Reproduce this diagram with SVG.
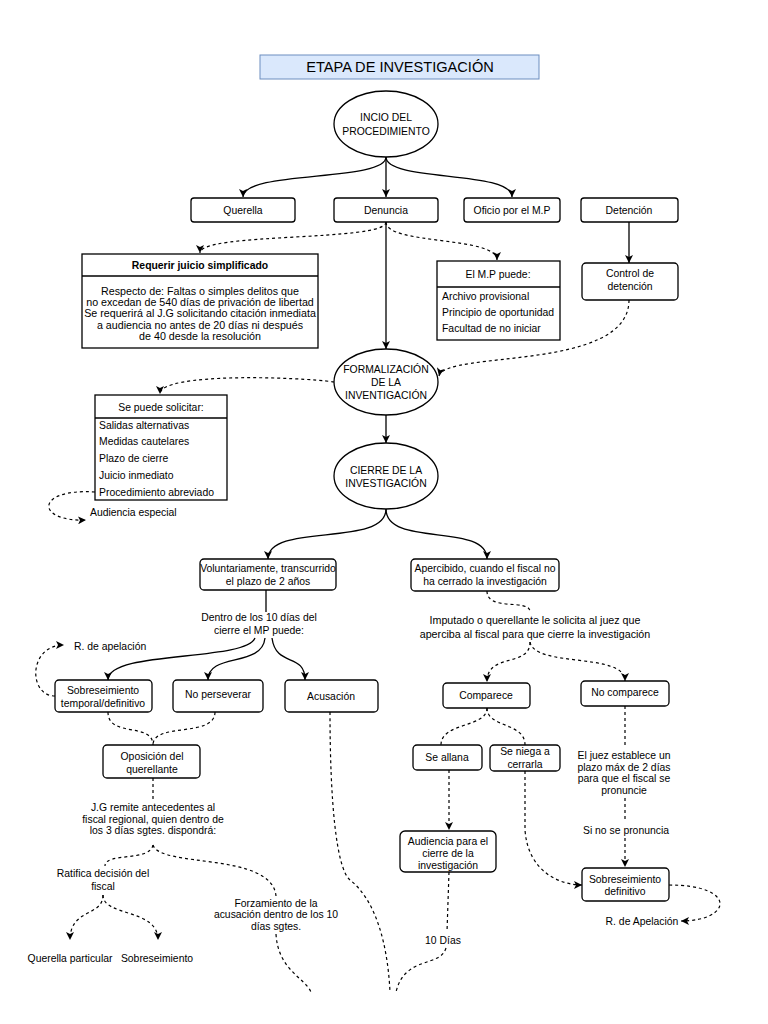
<svg xmlns="http://www.w3.org/2000/svg" width="768" height="1024" viewBox="0 0 768 1024">
<defs>
<marker id="ar" markerUnits="userSpaceOnUse" markerWidth="9" markerHeight="8" refX="8" refY="4" orient="auto">
<path d="M0,0 L8,4 L0,8 L2,4 Z" fill="#000"/>
</marker>
<style>
text{font-family:"Liberation Sans",Arial,sans-serif;font-size:10.4px;fill:#000;text-anchor:middle;dominant-baseline:central}
.l{text-anchor:start}
.b{font-weight:bold}
.m{font-size:10.7px}
.box{fill:#fff;stroke:#000;stroke-width:1.3}
.s{fill:none;stroke:#000;stroke-width:1.3}
.d{fill:none;stroke:#000;stroke-width:1.2;stroke-dasharray:3 3}
</style>
</defs>
<rect width="768" height="1024" fill="#fff"/>

<g id="title">
<rect x="260" y="55" width="279" height="24" fill="#dae8fc" stroke="#6c8ebf" stroke-width="1"/>
<text x="400" y="67" style="font-size:14.6px">ETAPA DE INVESTIGACIÓN</text>
</g>

<g id="connectors">
<path class="s" d="M386,157 C386,182 243,170 243,197" marker-end="url(#ar)"/>
<path class="s" d="M386,157 L386,197" marker-end="url(#ar)"/>
<path class="s" d="M386,157 C386,182 512,170 512,197" marker-end="url(#ar)"/>
<path class="s" d="M386,222 L386,349" marker-end="url(#ar)"/>
<path class="s" d="M629,222 L629,263" marker-end="url(#ar)"/>
<path class="s" d="M386,415 L386,443" marker-end="url(#ar)"/>
<path class="s" d="M386,509 C386,548 268,522 268,559" marker-end="url(#ar)"/>
<path class="s" d="M386,509 C386,548 487,522 487,559" marker-end="url(#ar)"/>
<path class="s" d="M266,590 L266,612"/>
<path class="s" d="M255,638 C245,662 108,650 108,680" marker-end="url(#ar)"/>
<path class="s" d="M265,638 C262,668 208,652 208,680" marker-end="url(#ar)"/>
<path class="s" d="M272,638 C276,668 305,652 305,680" marker-end="url(#ar)"/>

<path class="d" d="M386,222 C386,242 200,232 200,253" marker-end="url(#ar)"/>
<path class="d" d="M386,222 C386,245 497,236 497,260" marker-end="url(#ar)"/>
<path class="d" d="M629,300 C629,372 445,350 439,376" marker-end="url(#ar)"/>
<path class="d" d="M334,382 C300,377 160,372 160,394" marker-end="url(#ar)"/>
<path class="d" d="M95,492 C35,488 35,522 86,520" marker-end="url(#ar)"/>
<path class="d" d="M55,696 C28,696 28,645 64,645" marker-end="url(#ar)"/>
<path class="d" d="M108,712 C108,738 153,722 153,745"/>
<path class="d" d="M215,712 C215,738 153,722 153,745"/>
<path class="d" d="M153,778 L153,800"/>
<path class="d" d="M153,845 C150,862 105,852 105,866"/>
<path class="d" d="M153,845 C160,868 272,852 276,896"/>
<path class="d" d="M103,895 C103,917 70,908 70,940" marker-end="url(#ar)"/>
<path class="d" d="M103,895 C103,917 158,908 158,940" marker-end="url(#ar)"/>
<path class="d" d="M276,934 C278,970 305,978 311,992"/>
<path class="d" d="M330,712 C330,800 336,868 350,880 C378,902 388,950 390,992"/>
<path class="d" d="M487,591 C487,612 530,598 530,612"/>
<path class="d" d="M530,642 C530,668 487,652 487,682" marker-end="url(#ar)"/>
<path class="d" d="M530,642 C535,668 625,652 625,681" marker-end="url(#ar)"/>
<path class="d" d="M487,708 C487,728 441,722 441,745"/>
<path class="d" d="M487,708 C487,728 525,722 525,745"/>
<path class="d" d="M449,770 L449,830" marker-end="url(#ar)"/>
<path class="d" d="M449,872 L447,932"/>
<path class="d" d="M446,948 C440,968 405,955 396,992"/>
<path class="d" d="M525,771 L525,830 C528,872 560,885 582,885" marker-end="url(#ar)"/>
<path class="d" d="M625,706 L625,745"/>
<path class="d" d="M625,798 L625,822"/>
<path class="d" d="M625,838 L625,867" marker-end="url(#ar)"/>
<path class="d" d="M669,885 C738,885 732,921 681,921" marker-end="url(#ar)"/>
</g>

<g id="inicio">
<ellipse class="box" cx="386" cy="124" rx="52" ry="33"/>
<text x="386" y="117">INCIO DEL</text>
<text x="386" y="131">PROCEDIMIENTO</text>
</g>
<g id="querella"><rect class="box" x="191" y="198" width="104" height="24" rx="3"/><text x="243" y="210">Querella</text></g>
<g id="denuncia"><rect class="box" x="334" y="198" width="104" height="24" rx="3"/><text x="386" y="210">Denuncia</text></g>
<g id="oficio"><rect class="box" x="464" y="198" width="96" height="24" rx="3"/><text x="512" y="210">Oficio por el M.P</text></g>
<g id="detencion"><rect class="box" x="581" y="198" width="97" height="24" rx="3"/><text x="629" y="210">Detención</text></g>

<g id="requerir">
<rect class="box" x="82" y="254" width="236" height="94"/>
<line class="s" x1="82" y1="276" x2="318" y2="276"/>
<text x="200" y="265" class="b">Requerir juicio simplificado</text>
<text x="200" y="291" class="m">Respecto de: Faltas o simples delitos que</text>
<text x="200" y="302" class="m">no excedan de 540 días de privación de libertad</text>
<text x="200" y="313" class="m">Se requerirá al J.G solicitando citación inmediata</text>
<text x="200" y="325" class="m">a audiencia no antes de 20 días ni después</text>
<text x="200" y="336" class="m">de 40 desde la resolución</text>
</g>

<g id="mp-puede">
<rect class="box" x="437" y="261" width="123" height="79"/>
<line class="s" x1="437" y1="287" x2="560" y2="287"/>
<text x="498" y="274">El M.P puede:</text>
<text x="442" y="296" class="l">Archivo provisional</text>
<text x="442" y="312" class="l">Principio de oportunidad</text>
<text x="442" y="328" class="l">Facultad de no iniciar</text>
</g>

<g id="control"><rect class="box" x="582" y="263" width="96" height="37" rx="4"/><text x="630" y="273">Control de</text><text x="630" y="286">detención</text></g>

<g id="formalizacion">
<ellipse class="box" cx="386" cy="382" rx="52" ry="33"/>
<text x="386" y="369">FORMALIZACIÓN</text>
<text x="386" y="382">DE LA</text>
<text x="386" y="395">INVENTIGACIÓN</text>
</g>

<g id="se-puede">
<rect class="box" x="95" y="395" width="132" height="105"/>
<line class="s" x1="95" y1="418" x2="227" y2="418"/>
<text x="161" y="407">Se puede solicitar:</text>
<text x="99" y="425" class="l">Salidas alternativas</text>
<text x="99" y="441" class="l">Medidas cautelares</text>
<text x="99" y="458" class="l">Plazo de cierre</text>
<text x="99" y="475" class="l">Juicio inmediato</text>
<text x="99" y="492" class="l">Procedimiento abreviado</text>
</g>
<g id="audiencia-especial"><text x="90" y="512" class="l">Audiencia especial</text></g>

<g id="cierre">
<ellipse class="box" cx="386" cy="476" rx="52" ry="33"/>
<text x="386" y="470">CIERRE DE LA</text>
<text x="386" y="483">INVESTIGACIÓN</text>
</g>

<g id="voluntariamente"><rect class="box" x="200" y="559" width="136" height="31" rx="4"/><text x="268" y="568">Voluntariamente, transcurrido</text><text x="268" y="581">el plazo de 2 años</text></g>
<g id="apercibido"><rect class="box" x="411" y="559" width="148" height="32" rx="4"/><text x="485" y="568">Apercibido, cuando el fiscal no</text><text x="485" y="581">ha cerrado la investigación</text></g>

<g id="dentro"><text x="259" y="617" style="stroke:#fff;stroke-width:3;paint-order:stroke">Dentro de los 10 días del</text><text x="259" y="630">cierre el MP puede:</text></g>

<g id="r-apelacion"><text x="74" y="646" class="l">R. de apelación</text></g>
<g id="sobreseimiento"><rect class="box" x="55" y="680" width="97" height="32" rx="4"/><text x="103" y="690">Sobreseimiento</text><text x="103" y="703">temporal/definitivo</text></g>
<g id="no-perseverar"><rect class="box" x="173" y="680" width="90" height="32" rx="4"/><text x="218" y="694">No perseverar</text></g>
<g id="acusacion"><rect class="box" x="285" y="680" width="93" height="32" rx="4"/><text x="331" y="696">Acusación</text></g>

<g id="oposicion"><rect class="box" x="103" y="745" width="97" height="33" rx="4"/><text x="152" y="756">Oposición del</text><text x="152" y="769">querellante</text></g>

<g id="jg-remite"><text x="153" y="807">J.G remite antecedentes al</text><text x="153" y="819">fiscal regional, quien dentro de</text><text x="153" y="830">los 3 días sgtes. dispondrá:</text></g>
<g id="ratifica"><text x="103" y="873">Ratifica decisión del</text><text x="103" y="886">fiscal</text></g>
<g id="forzamiento"><text x="276" y="903">Forzamiento de la</text><text x="276" y="914">acusación dentro de los 10</text><text x="276" y="926">días sgtes.</text></g>
<g id="querella-particular"><text x="70" y="958">Querella particular</text></g>
<g id="sobreseimiento2"><text x="157" y="958">Sobreseimiento</text></g>

<g id="imputado"><text x="535" y="620" class="m">Imputado o querellante le solicita al juez que</text><text x="535" y="634" class="m">aperciba al fiscal para que cierre la investigación</text></g>
<g id="comparece"><rect class="box" x="443" y="683" width="87" height="25" rx="4"/><text x="486" y="695">Comparece</text></g>
<g id="no-comparece"><rect class="box" x="581" y="681" width="88" height="25" rx="4"/><text x="625" y="692">No comparece</text></g>
<g id="se-allana"><rect class="box" x="413" y="745" width="69" height="25" rx="4"/><text x="447" y="757">Se allana</text></g>
<g id="se-niega"><rect class="box" x="490" y="745" width="70" height="26" rx="4"/><text x="525" y="751">Se niega a</text><text x="525" y="764">cerrarla</text></g>
<g id="juez-establece"><text x="624" y="755">El juez establece un</text><text x="624" y="767">plazo máx de 2 días</text><text x="624" y="778">para que el fiscal se</text><text x="624" y="790">pronuncie</text></g>
<g id="si-no"><text x="626" y="830">Si no se pronuncia</text></g>
<g id="audiencia-cierre"><rect class="box" x="400" y="831" width="96" height="41" rx="5"/><text x="448" y="841">Audiencia para el</text><text x="448" y="853">cierre de la</text><text x="448" y="865">investigación</text></g>
<g id="diez-dias"><text x="443" y="940">10 Días</text></g>
<g id="sob-definitivo"><rect class="box" x="582" y="868" width="87" height="33" rx="4"/><text x="625" y="879">Sobreseimiento</text><text x="625" y="891">definitivo</text></g>
<g id="r-apelacion2"><text x="642" y="921">R. de Apelación</text></g>
</svg>
